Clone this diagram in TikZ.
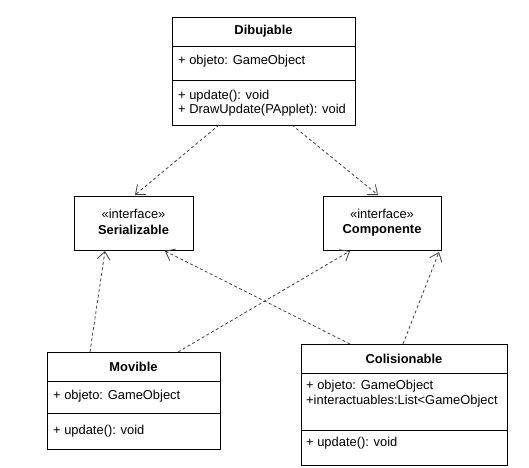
\documentclass[tikz,border=0pt]{standalone}
\usepackage{fontspec}
\setmainfont{Liberation Sans}
\usetikzlibrary{arrows.meta,calc}
\begin{document}
\begin{tikzpicture}[x=1pt,y=-1pt,
  box/.style={draw=black,line width=0.9pt,fill=white,anchor=north west,inner sep=0pt,outer sep=0pt},
  divider/.style={draw=black,line width=0.9pt},
  txt/.style={anchor=west,inner sep=0pt,font=\fontsize{12.9}{14}\selectfont},
  ttl/.style={inner sep=0pt,font=\fontsize{12.9}{14}\selectfont\bfseries},
  dep/.style={draw=black!75,line width=0.8pt,dash pattern=on 3pt off 2.5pt,
    -{Straight Barb[length=8pt,width=13pt,line width=0.8pt]}}]
\useasboundingbox (0,0) rectangle (529,467);
% Dibujable
\node[box,minimum width=183pt,minimum height=108pt] (dib) at (172,17) {};
\draw[divider] (172,46) -- (355,46);
\draw[divider] (172,80) -- (355,80);
\node[ttl] (dibt) at (263.5,31.5) {Dibujable};
\node[txt] (diba) at (178,61) {+ objeto: GameObject};
\node[txt] (dibm1) at (178,96) {+ update(): void};
\node[txt] (dibm2) at (178,110) {+ DrawUpdate(PApplet): void};
% Serializable
\node[box,minimum width=119pt,minimum height=54pt] (ser) at (74,196) {};
\node[txt,anchor=center] (sers) at (133.5,214) {«interface»};
\node[ttl] (sern) at (133.5,230) {Serializable};
% Componente
\node[box,minimum width=118pt,minimum height=54pt] (comp) at (323,196) {};
\node[txt,anchor=center] (comps) at (382,214) {«interface»};
\node[ttl] (compn) at (382,230) {Componente};
% Movible
\node[box,minimum width=173pt,minimum height=97pt] (mov) at (47,352) {};
\draw[divider] (47,381) -- (220,381);
\draw[divider] (47,413) -- (220,413);
\node[ttl] (movt) at (133.5,366.5) {Movible};
\node[txt] (mova) at (53,396) {+ objeto: GameObject};
\node[txt] (movm) at (53,431) {+ update(): void};
% Colisionable
\node[box,minimum width=206pt,minimum height=121pt] (col) at (301,344) {};
\draw[divider] (301,373) -- (507,373);
\draw[divider] (301,430) -- (507,430);
\node[ttl] (colt) at (404,358.5) {Colisionable};
\node[txt] (cola1) at (306,386) {+ objeto: GameObject};
\node[txt] (cola2) at (306,401) {+interactuables:List<GameObject};
\node[txt] (colm) at (306,443) {+ update(): void};
% connectors
\draw[dep] ($(dib.south west)+(47,0)$) -- ($(ser.north west)+(61,-1)$);
\draw[dep] ($(dib.south west)+(120,0)$) -- ($(comp.north west)+(55,-1)$);
\draw[dep] ($(mov.north west)+(43,0)$) -- ($(ser.south west)+(31,1)$);
\draw[dep] ($(mov.north west)+(131,0)$) -- ($(comp.south west)+(27,1)$);
\draw[dep] ($(col.north west)+(49,0)$) -- ($(ser.south west)+(91,1)$);
\draw[dep] ($(col.north west)+(102,0)$) -- ($(comp.south west)+(116,2)$);
\end{tikzpicture}
\end{document}
